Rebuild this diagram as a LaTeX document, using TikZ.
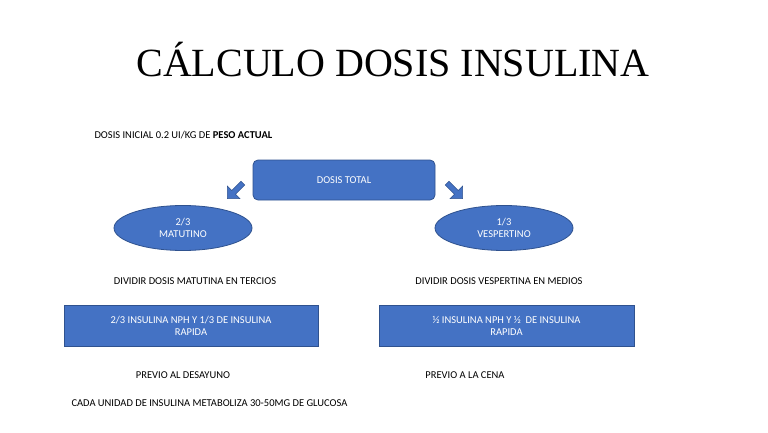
\documentclass[tikz,border=0pt]{standalone}
\usepackage{fontspec}
\setmainfont{Carlito}
\newfontfamily\titlefont{Liberation Serif}
\usetikzlibrary{shapes.geometric,shapes.arrows}
\definecolor{blu}{HTML}{4472C4}
\definecolor{bdr}{HTML}{2F528F}
\begin{document}
\begin{tikzpicture}[x=1pt,y=-1pt,
  lbl/.style={font=\fontsize{10.5}{12}\selectfont},
  bluebox/.style={fill=blu,draw=bdr,line width=0.8pt,text=white,font=\fontsize{10.5}{12}\selectfont,align=center,inner sep=0pt},
  barrow/.style={single arrow,fill=blu,draw=bdr,line width=0.5pt,minimum height=22pt,minimum width=18pt,single arrow head extend=3pt,inner sep=1pt}]
\useasboundingbox (0,0) rectangle (768,433);
\fill[white] (0,0) rectangle (768,433);
\node (title) at (393,60) {\titlefont\fontsize{40}{44}\selectfont CÁLCULO DOSIS INSULINA};
\node[lbl,anchor=west] (ini) at (91,135) {DOSIS INICIAL 0.2 UI/KG DE \textbf{PESO ACTUAL}};
\node[bluebox,rounded corners=5pt,minimum width=182pt,minimum height=40pt] (tot) at (344,180) {DOSIS TOTAL};
\node[barrow,rotate=225] (al) at (236,190) {};
\node[barrow,rotate=315] (ar) at (454,190) {};
\node[bluebox,ellipse,minimum width=138pt,minimum height=45pt] (mat) at (183,228) {2/3\\MATUTINO};
\node[bluebox,ellipse,minimum width=138pt,minimum height=45pt] (ves) at (504,228) {1/3\\VESPERTINO};
\node[lbl] (dm) at (195,281) {DIVIDIR DOSIS MATUTINA EN TERCIOS};
\node[lbl] (dv) at (499,281) {DIVIDIR DOSIS VESPERTINA EN MEDIOS};
\node[bluebox,minimum width=254pt,minimum height=41pt] (nl) at (191,325.5) {2/3 INSULINA NPH Y 1/3 DE INSULINA\\RAPIDA};
\node[bluebox,minimum width=255pt,minimum height=41pt] (nr) at (506.5,325.5) {½ INSULINA NPH Y ½\ \ DE INSULINA\\RAPIDA};
\node[lbl] (pd) at (183,375) {PREVIO AL DESAYUNO};
\node[lbl] (pc) at (465,375) {PREVIO A LA CENA};
\node[lbl,anchor=west] (cu) at (68,403) {CADA UNIDAD DE INSULINA METABOLIZA 30-50MG DE GLUCOSA};
\end{tikzpicture}
\end{document}
